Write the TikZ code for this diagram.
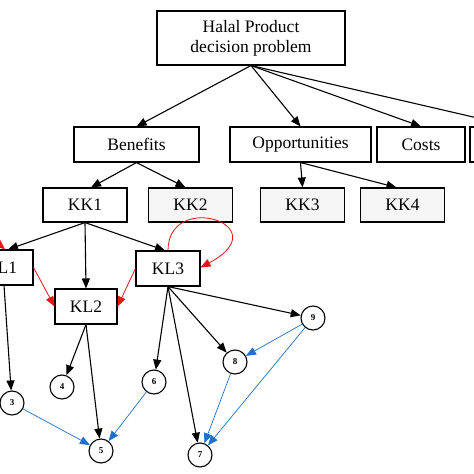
\documentclass[tikz,border=0pt]{standalone}
\usepackage{fontspec}
\setmainfont{Liberation Serif}
\usepackage{xcolor}
\usetikzlibrary{arrows.meta}

\definecolor{redarc}{RGB}{228,22,22}
\definecolor{bluearc}{RGB}{30,112,200}

\begin{document}
\begin{tikzpicture}[x=1pt, y=-1pt, >={Triangle[length=10pt, width=8pt]}, line width=1.1pt,
    box/.style={draw, inner sep=0pt, font=\fontsize{17.5}{20}\selectfont},
    gbox/.style={box, fill=gray!8},
    crit/.style={circle, draw, inner sep=0pt, minimum size=24pt, font=\fontsize{9}{10}\selectfont\bfseries},
    redarrow/.style={->, draw=redarc, line width=0.8pt},
    bluearrow/.style={->, draw=bluearc, line width=0.7pt}]
    \useasboundingbox (0,0) rectangle (474,474);
    \clip (0,0) rectangle (474,474);

    % Muc tieu
    \node[box, minimum width=188pt, minimum height=54pt, align=center] (top) at (251,38)
        {Halal Product\\decision problem};

    % Cac tieu chi chinh
    \node[box, minimum width=125pt, minimum height=35pt] (ben) at (136.5,144.5) {Benefits};
    \node[box, minimum width=141pt, minimum height=35pt] (opp) at (300.5,144.5) {Opportunities};
    \node[box, minimum width=88pt, minimum height=35pt] (cost) at (421,144.5) {Costs};
    \node[box, minimum width=88pt, minimum height=35pt] (risk) at (514,144.5) {};

    % Tieu chi con
    \node[box, minimum width=84pt, minimum height=34pt] (kk1) at (85,205) {KK1};
    \node[gbox, minimum width=84pt, minimum height=34pt] (kk2) at (190.5,205) {KK2};
    \node[gbox, minimum width=84pt, minimum height=34pt] (kk3) at (302.5,205) {KK3};
    \node[gbox, minimum width=84pt, minimum height=34pt] (kk4) at (402.5,205) {KK4};

    \node[box, minimum width=64pt, minimum height=35pt] (kl1) at (1,267.5) {KL1};
    \node[box, minimum width=62pt, minimum height=35pt] (kl2) at (86,306.5) {KL2};
    \node[box, minimum width=64pt, minimum height=35pt] (kl3) at (168,268.5) {KL3};

    % Cac nut tron
    \node[crit] (n3) at (12,403) {3};
    \node[crit] (n4) at (62,387) {4};
    \node[crit] (n5) at (101,451) {5};
    \node[crit] (n6) at (154,382) {6};
    \node[crit] (n7) at (200,455) {7};
    \node[crit] (n8) at (235,362) {8};
    \node[crit] (n9) at (313,318) {9};

    % Cung den
    \foreach \t in {ben, opp, cost, risk}
        \draw[->] (top.south) -- (\t.north);
    \draw[->] (ben.south) -- ([xshift=6pt]kk1.north);
    \draw[->] (ben.south) -- ([xshift=-5pt]kk2.north);
    \draw[->] (opp.south) -- (kk3.north);
    \draw[->] (opp.south) -- ([xshift=-6pt]kk4.north);
    \draw[->] (kk1.south) -- ([xshift=7pt]kl1.north);
    \draw[->] (kk1.south) -- (kl2.north);
    \draw[->] (kk1.south) -- ([xshift=-3pt]kl3.north);
    \draw[->] ([xshift=3pt]kl1.south) -- (n3);
    \draw[->] (kl2.south) -- (n4);
    \draw[->] (kl2.south) -- (n5);
    \foreach \t in {n6, n7, n8, n9}
        \draw[->] (kl3.south) -- (\t);

    % Cung do
    \coordinate (kl1in) at (-22,226);
    \draw[redarrow] (kl1in) -- ([xshift=4pt]kl1.north);
    \draw[redarrow] (kl1.east) -- (kl2.west);
    \draw[redarrow] (kl3.west) -- (kl2.east);
    \draw[redarrow] (kl3.north) .. controls (168,190) and (280,225) .. ([yshift=1pt]kl3.east);

    % Cung xanh
    \draw[bluearrow] (n3) -- (n5);
    \draw[bluearrow] (n6) -- (n5);
    \draw[bluearrow] (n9) -- (n8);
    \draw[bluearrow] (n8) -- (n7);
    \draw[bluearrow] (n9) -- (n7);
\end{tikzpicture}
\end{document}
